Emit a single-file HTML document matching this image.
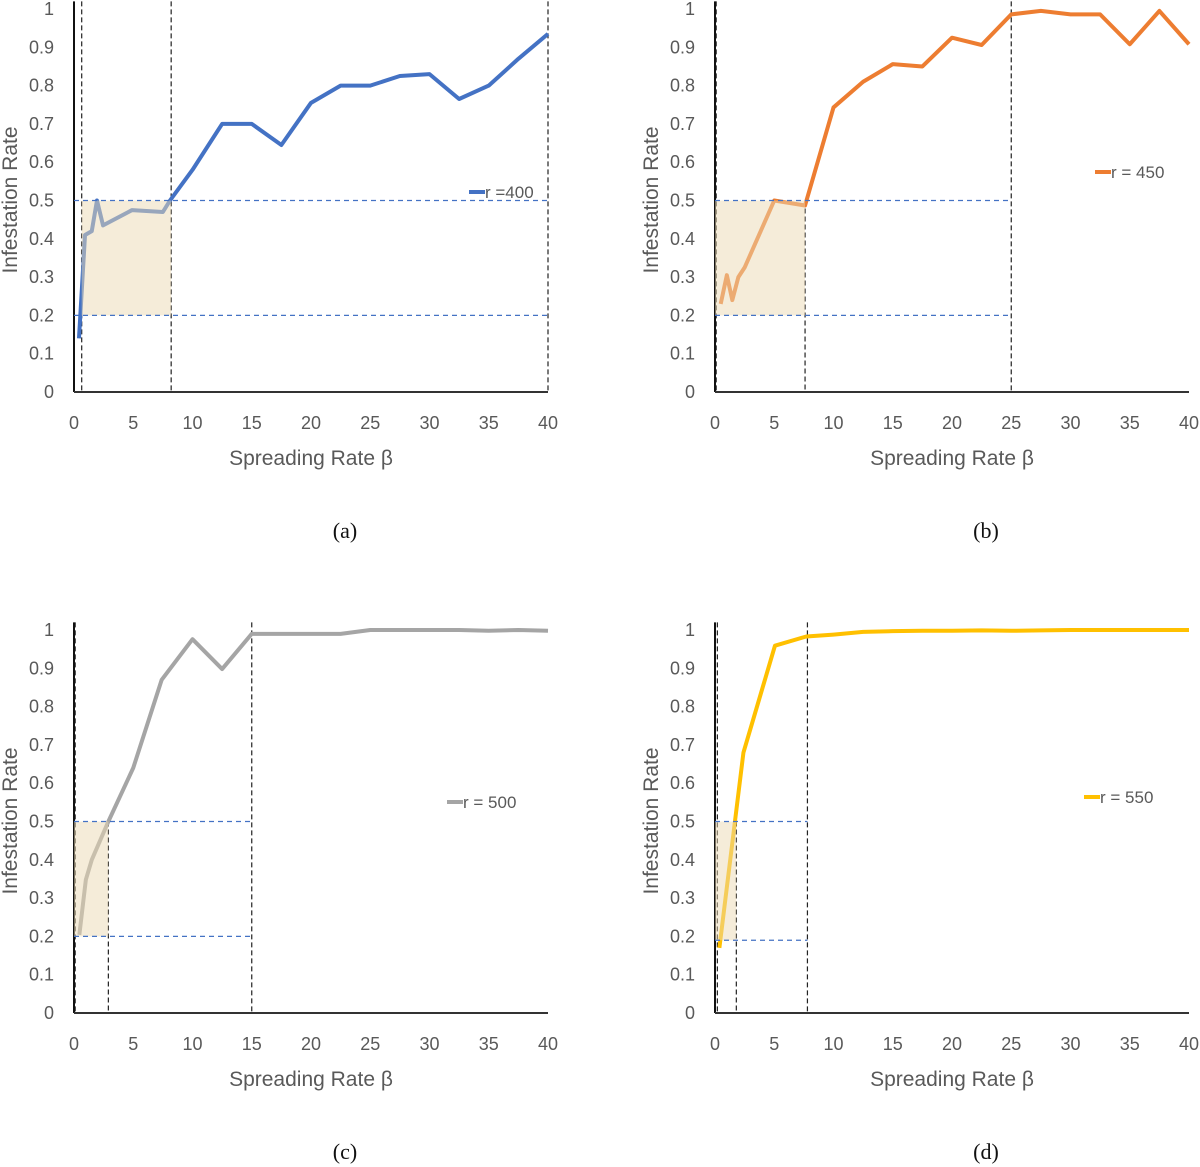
<!DOCTYPE html>
<html><head><meta charset="utf-8"><style>
body{margin:0;background:#fff;}
svg{display:block;font-family:"Liberation Sans",sans-serif;}
</style></head><body>
<svg id="s" width="1200" height="1167" viewBox="0 0 1200 1167"></svg>
<script>
const xTicks=[0,5,10,15,20,25,30,35,40];
const yTicks=[0,0.1,0.2,0.3,0.4,0.5,0.6,0.7,0.8,0.9,1];
const aX=[0.42,0.93,1.5,1.94,2.45,4.9,7.5,8.1,10,12.5,15,17.5,20,22.5,25,27.5,30,32.5,35,37.5,40];
const aY=[0.14,0.41,0.42,0.50,0.435,0.475,0.47,0.50,0.58,0.70,0.70,0.645,0.755,0.80,0.80,0.825,0.83,0.765,0.80,0.87,0.935];
const bX=[0.48,1.0,1.46,1.97,2.5,5,7.6,10,12.5,15,17.5,20,22.5,25,27.5,30,32.5,35,37.5,40];
const bY=[0.23,0.305,0.24,0.30,0.325,0.50,0.487,0.743,0.81,0.856,0.85,0.925,0.906,0.986,0.995,0.986,0.986,0.908,0.995,0.908];
const cX=[0.45,1.0,1.5,2.9,5,7.4,10,12.5,15,17.5,20,22.5,25,27.5,30,32.5,35,37.5,40];
const cY=[0.204,0.348,0.40,0.50,0.64,0.87,0.976,0.898,0.99,0.99,0.99,0.99,1,1,1,1,0.998,1,0.998];
const dX=[0.37,2.4,5.06,7.7,10,12.5,15,17.5,20,22.5,25,27.5,30,32.5,35,37.5,40];
const dY=[0.17,0.68,0.959,0.983,0.988,0.995,0.997,0.998,0.998,0.999,0.998,0.999,1,1,1,1,1];
const NS="http://www.w3.org/2000/svg";
const svg=document.getElementById('s');
function mk(t,a,p){const e=document.createElementNS(NS,t);for(const k in a)e.setAttribute(k,a[k]);(p||svg).appendChild(e);return e;}
const panels=[
 {id:'a',x0:74,y0:392,xs:aX,ys:aY,color:'#4472c4',label:'r =400',lx:469,ly:192,shade:[0.65,8.2,0.2,0.5],hEnd:40,vFull:[0.65,8.2,40],vPart:[],cap:'(a)'},
 {id:'b',x0:715,y0:392,xs:bX,ys:bY,color:'#ed7d31',label:'r = 450',lx:1095,ly:172,shade:[0,7.6,0.2,0.5],hEnd:25,vFull:[0.1,25],vPart:[7.6],cap:'(b)'},
 {id:'c',x0:74,y0:1013,xs:cX,ys:cY,color:'#a5a5a5',label:'r = 500',lx:447,ly:802,shade:[0,2.9,0.2,0.5],hEnd:15,vFull:[0.1,15],vPart:[2.9],cap:'(c)'},
 {id:'d',x0:715,y0:1013,xs:dX,ys:dY,color:'#ffc000',label:'r = 550',lx:1084,ly:797,shade:[0,1.8,0.19,0.5],hEnd:7.8,vFull:[0.2,7.8],vPart:[1.8],cap:'(d)'}
];
panels.forEach(p=>{
 const g=mk('g',{});
 
 
 const X=v=>p.x0+v*11.85, Y=v=>p.y0-v*383;
 p.vFull.forEach(v=>{const l=mk('line',{x1:X(v),x2:X(v),y1:Y(1.02),y2:p.y0,stroke:'#222','stroke-width':1.2,'stroke-dasharray':'5,3'},g);
  
  });
 p.vPart.forEach(v=>{const l=mk('line',{x1:X(v),x2:X(v),y1:Y(0.5),y2:p.y0,stroke:'#222','stroke-width':1.2,'stroke-dasharray':'5,3'},g);
  
  });
 const ya=mk('line',{x1:p.x0,x2:p.x0,y1:Y(1.02),y2:p.y0,stroke:'#111','stroke-width':2},g);
 
 
 const xa=mk('line',{x1:p.x0,x2:X(40),y1:p.y0,y2:p.y0,stroke:'#333','stroke-width':2},g);
 
 
 yTicks.forEach(v=>{const t=mk('text',{x:p.x0-20,y:Y(v)+6,'text-anchor':'end','font-size':18,fill:'#595959'},g);t.textContent=String(v);
  
  });
 xTicks.forEach(v=>{const t=mk('text',{x:X(v),y:p.y0+37,'text-anchor':'middle','font-size':18,fill:'#595959'},g);t.textContent=String(v);
  
  });
 const pts=p.xs.map((x,i)=>X(x)+','+Y(p.ys[i])).join(' ');
 const ln=mk('polyline',{points:pts,fill:'none',stroke:p.color,'stroke-width':4,'stroke-linejoin':'round'},g);
 
 
 const sh=mk('rect',{x:X(p.shade[0]),y:Y(p.shade[3]),width:X(p.shade[1])-X(p.shade[0]),height:Y(p.shade[2])-Y(p.shade[3]),fill:'#ecd9b3',opacity:0.5},g);
 
 
 [p.shade[2],p.shade[3]].forEach(v=>{const l=mk('line',{x1:X(0),x2:X(p.hEnd),y1:Y(v),y2:Y(v),stroke:'#4472c4','stroke-width':1.2,'stroke-dasharray':'5,4'},g);
  
  });
 const ll=mk('line',{x1:p.lx,x2:p.lx+16,y1:p.ly,y2:p.ly,stroke:p.color,'stroke-width':4},g);
 
 
 const lt=mk('text',{x:p.lx+16,y:p.ly+6,'font-size':17,fill:'#595959'},g);lt.textContent=p.label;
 
 
 const yt=mk('text',{transform:`translate(${p.x0-57},${p.y0-192}) rotate(-90)`,'text-anchor':'middle','font-size':21,fill:'#595959'},g);yt.textContent='Infestation Rate';
 
 
 const xt=mk('text',{x:X(20),y:p.y0+73,'text-anchor':'middle','font-size':21,fill:'#595959'},g);xt.textContent='Spreading Rate β';
 
 
 const cp=mk('text',{x:X(20)+34,y:p.y0+146,'text-anchor':'middle','font-size':22,fill:'#111','font-family':'Liberation Serif, serif'},g);cp.textContent=p.cap;
 
 
});
</script>
</body></html>
